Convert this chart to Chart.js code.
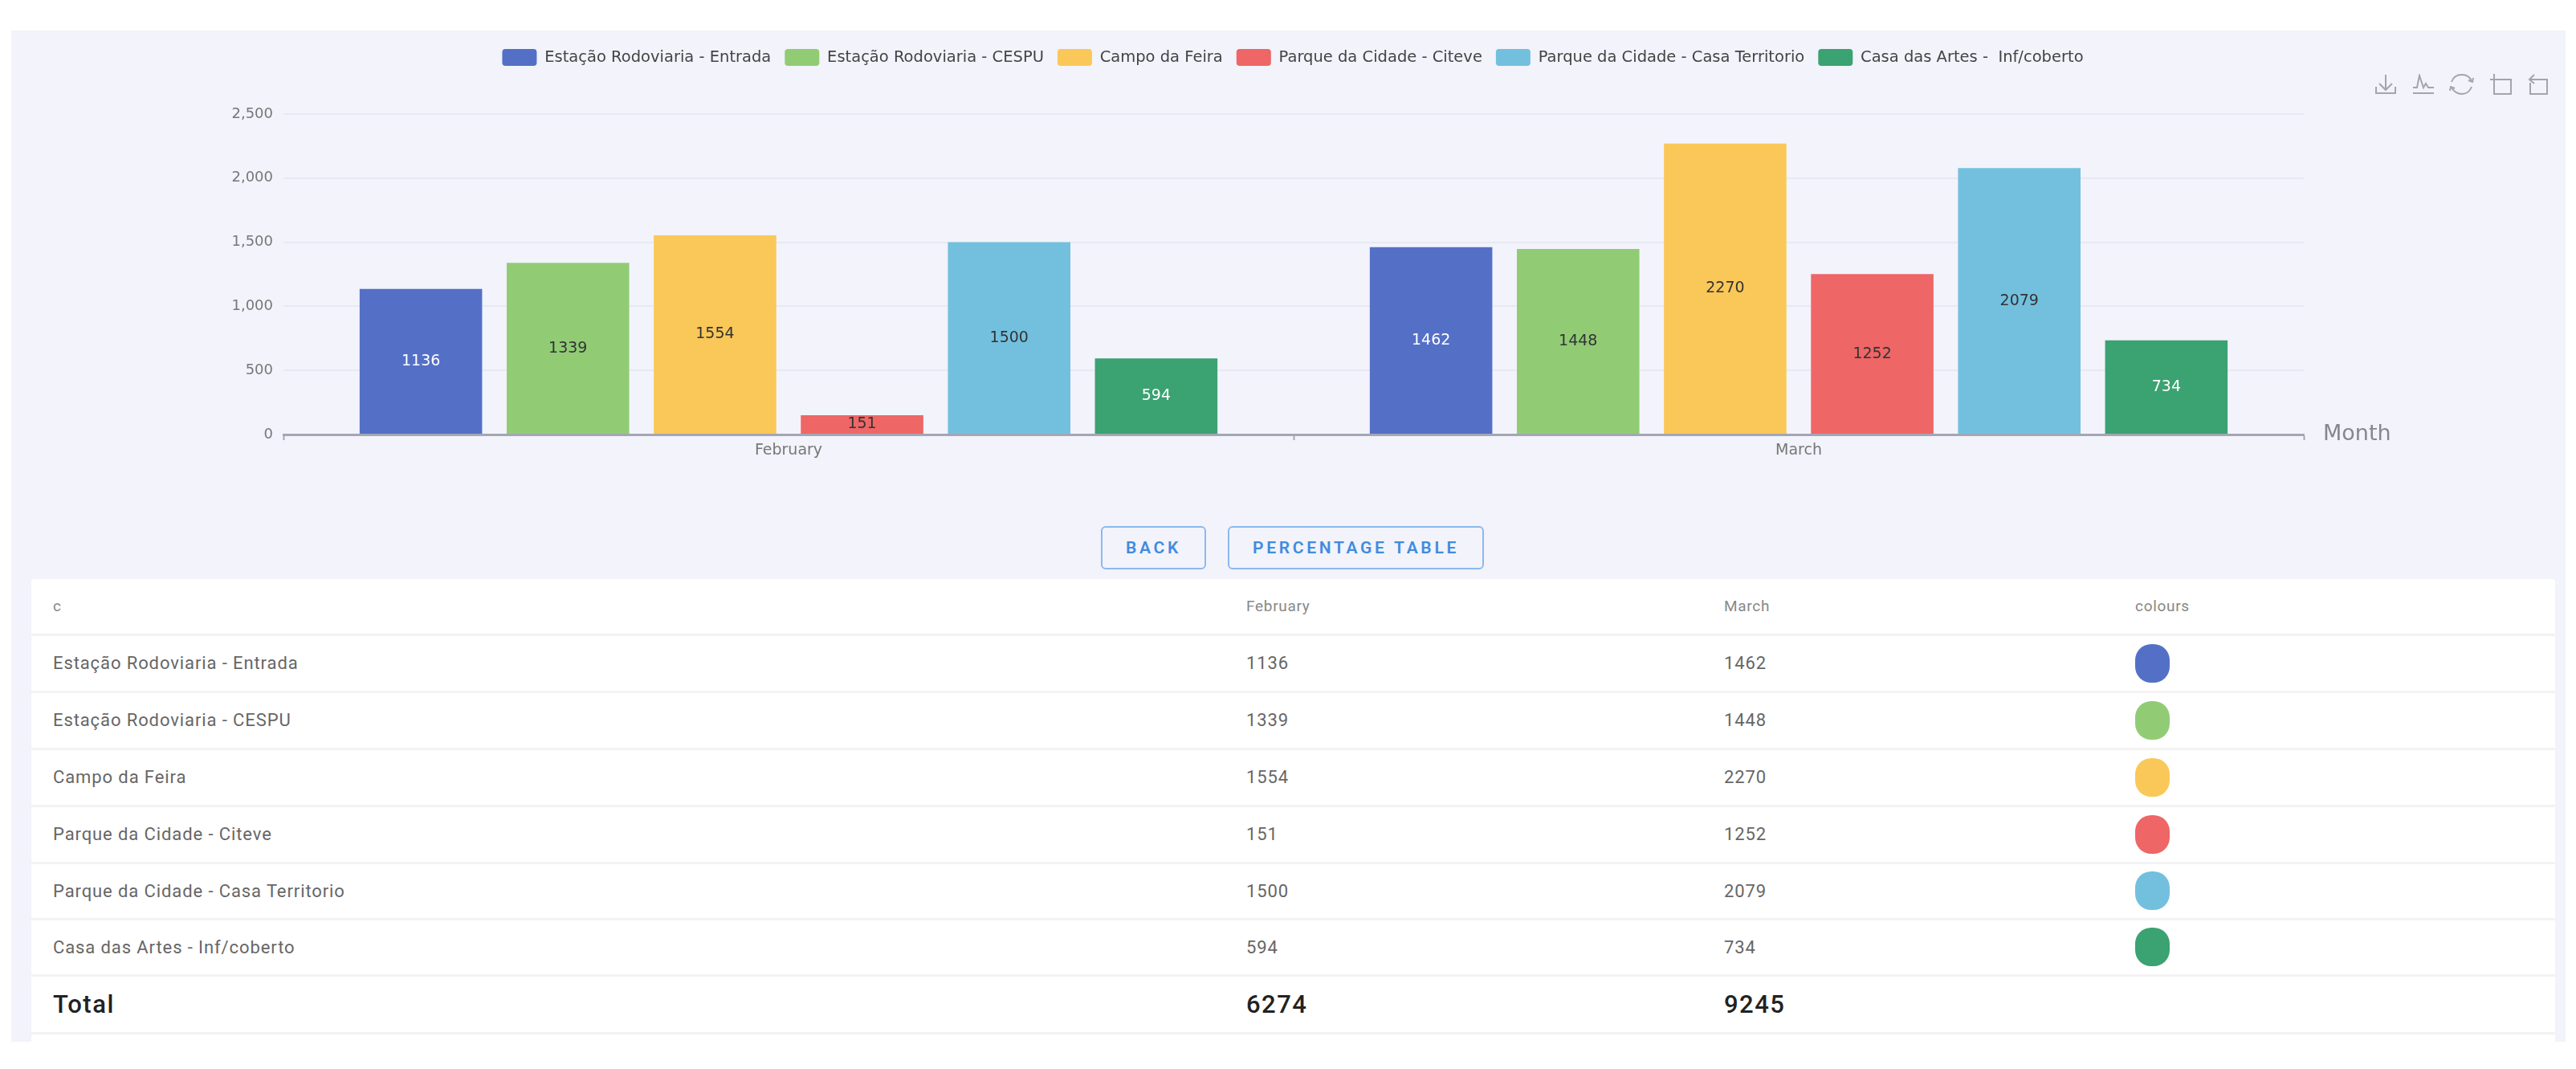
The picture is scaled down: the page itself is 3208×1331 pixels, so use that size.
<!DOCTYPE html>
<html>
<head>
<meta charset="utf-8">
<title>Chart</title>
<script src="https://cdn.jsdelivr.net/npm/chart.js@4"></script>
<style>
    html, body { margin: 0; padding: 0; background: #fff; overflow: hidden; }
    #page { position: absolute; left: 14px; top: 38px; width: 3181px; height: 1259px; background: #f2f3fb; }
    #chartBox { position: absolute; left: 14px; top: 38px; width: 3192px; height: 600px; }
    .tool { position: absolute; top: 92px; }
    .btn { position: absolute; top: 655px; height: 50px; border: 2px solid #8db9ee; border-radius: 6px; color: #3f8ce0;
           font: 600 21px Roboto, sans-serif; letter-spacing: 3.7px; text-align: center; line-height: 50px; }
    #tableBox { position: absolute; left: 39px; top: 721px; width: 3143px; height: 576px; background: #fff; border-radius: 4px 4px 0 0; }
    #tableBox table { border-collapse: collapse; table-layout: fixed; width: 3143px; font-family: Roboto, sans-serif; }
    #tableBox td, #tableBox th { padding: 0 0 0 27px; text-align: left; border-bottom: 3px solid #f3f3f4; font-weight: 400; font-size: 22px; letter-spacing: 0.9px; color: #666; }
    #tableBox th { font-size: 19px; letter-spacing: 0.7px; color: #888; }
    #tableBox .total td { font-size: 31px; letter-spacing: 1.5px; font-weight: 500; color: #222; }
    .dot { width: 43px; height: 48px; border-radius: 20px; }
</style>
</head>
<body>
<div id="page"></div>
<div id="chartBox"><canvas id="myChart" width="3192" height="600"></canvas></div>

<svg class="tool" style="left:2958px" width="26" height="26" viewBox="0 0 26 26" fill="none" stroke="#a3a5ad" stroke-width="2"><path d="M1 16v8h24v-8M13 1v18M5 12l8 8 8-8"/></svg>
<svg class="tool" style="left:3004px" width="28" height="26" viewBox="0 0 28 26" fill="none" stroke="#a3a5ad" stroke-width="2"><path d="M1 24h26M1 17h5l3-15 5 15 3-5 3 5h7"/></svg>
<svg class="tool" style="left:3050px" width="31" height="26" viewBox="0 0 31 26" fill="none" stroke="#a3a5ad" stroke-width="2"><path d="M3 10C5 4 10 1 16 1s10 3 12 8M28 16c-2 6-7 9-12 9S6 22 3 17"/><path d="M24 8l5 2 1-5M7 18l-5-2-1 5"/></svg>
<svg class="tool" style="left:3100px" width="29" height="26" viewBox="0 0 29 26" fill="none" stroke="#a3a5ad" stroke-width="2"><path d="M6 0v25h21V7H1"/></svg>
<svg class="tool" style="left:3147px" width="27" height="26" viewBox="0 0 27 26" fill="none" stroke="#a3a5ad" stroke-width="2"><path d="M4 11v14h21V7H4M9 1L3 7l6 5"/></svg>

<div class="btn" style="left:1371px;width:127px">BACK</div>
<div class="btn" style="left:1529px;width:315px">PERCENTAGE TABLE</div>

<div id="tableBox"><table id="dataTable"></table></div>

<script>
    var months = ['February', 'March'];
    var seriesNames = ['Estação Rodoviaria - Entrada', 'Estação Rodoviaria - CESPU', 'Campo da Feira',
        'Parque da Cidade - Citeve', 'Parque da Cidade - Casa Territorio', 'Casa das Artes -  Inf/coberto'];
    var entrada = [1136, 1462];
    var cespu = [1339, 1448];
    var feira = [1554, 2270];
    var citeve = [151, 1252];
    var territorio = [1500, 2079];
    var artes = [594, 734];
    var totals = [6274, 9245];
    var yTicks = [0, 500, 1000, 1500, 2000, 2500];

    var seriesValues = [entrada, cespu, feira, citeve, territorio, artes];
    var seriesColors = ['#5470c6', '#91cc75', '#fac858', '#ee6666', '#73c0de', '#3ba272'];
    var labelColors = ['#ffffff', '#333333', '#333333', '#333333', '#333333', '#ffffff'];
    var chartFont = '"DejaVu Sans", sans-serif';

    // fixes the legend box so the plot starts where it should and the legend centres on the whole canvas
    var legendBox = {
        id: 'legendBox',
        beforeLayout: function (chart) {
            var fit = chart.legend.fit;
            chart.legend.fit = function () {
                fit.call(this);
                this.height = 98;
            };
        },
        afterLayout: function (chart) {
            chart.legend.left = 0;
            chart.legend.right = chart.width;
        }
    };

    // value in the middle of each bar, and the axis name next to the x axis
    var barLabels = {
        id: 'barLabels',
        afterDatasetsDraw: function (chart) {
            var ctx = chart.ctx;
            ctx.save();
            ctx.textAlign = 'center';
            ctx.textBaseline = 'middle';
            ctx.font = '19px ' + chartFont;
            chart.data.datasets.forEach(function (ds, i) {
                ctx.fillStyle = labelColors[i];
                chart.getDatasetMeta(i).data.forEach(function (bar, j) {
                    ctx.fillText(ds.data[j], bar.x, (bar.y + bar.base) / 2);
                });
            });
            var x = chart.scales.x;
            ctx.textAlign = 'left';
            ctx.fillStyle = '#85868e';
            ctx.font = '27px ' + chartFont;
            ctx.fillText('Month', x.right + 24, x.top);
            ctx.restore();
        }
    };

    var ctx = document.getElementById('myChart').getContext('2d');
    var myChart = new Chart(ctx, {
        type: 'bar',
        data: {
            labels: months,
            datasets: seriesNames.map(function (name, i) {
                return { label: name, data: seriesValues[i], backgroundColor: seriesColors[i], borderWidth: 0 };
            })
        },
        options: {
            responsive: false,
            animation: false,
            categoryPercentage: 0.8735,
            barPercentage: 0.833,
            layout: { padding: { top: 6, right: 337 } },
            plugins: {
                legend: {
                    position: 'top',
                    labels: {
                        boxWidth: 43, boxHeight: 21, padding: 17,
                        useBorderRadius: true, borderRadius: 4,
                        color: '#444', font: { size: 19.5, family: chartFont }
                    }
                },
                tooltip: { enabled: false }
            },
            scales: {
                x: {
                    afterFit: function (scale) { scale.height = 97; },
                    border: { color: '#a4a6b3', width: 3 },
                    grid: { drawOnChartArea: false, tickLength: 7, tickColor: '#a4a6b3', tickWidth: 2 },
                    ticks: { color: '#777', padding: 2, font: { size: 19, family: chartFont } }
                },
                y: {
                    min: 0, max: 2500,
                    afterFit: function (scale) { scale.width = 339; },
                    afterBuildTicks: function (scale) { scale.ticks = yTicks.map(function (v) { return { value: v }; }); },
                    border: { display: false },
                    grid: { color: '#e7e9f3', lineWidth: 2, drawTicks: false },
                    ticks: { color: '#777', padding: 13, font: { size: 18, family: chartFont } }
                }
            }
        },
        plugins: [legendBox, barLabels]
    });

    // table under the chart, same arrays
    var rowHeights = [69, 71, 71, 71, 71, 70, 70, 72];
    var colWidths = [1486, 595, 512, 550];
    var html = '<colgroup>' + colWidths.map(function (w) { return '<col style="width:' + w + 'px">'; }).join('') + '</colgroup>';
    html += '<tr style="height:' + rowHeights[0] + 'px"><th>c</th><th>' + months[0] + '</th><th>' + months[1] + '</th><th>colours</th></tr>';
    seriesNames.forEach(function (name, i) {
        html += '<tr style="height:' + rowHeights[i + 1] + 'px"><td>' + name + '</td><td>' + seriesValues[i][0] + '</td><td>' + seriesValues[i][1] +
            '</td><td><div class="dot" style="background:' + seriesColors[i] + '"></div></td></tr>';
    });
    html += '<tr class="total" style="height:' + rowHeights[7] + 'px"><td>Total</td><td>' + totals[0] + '</td><td>' + totals[1] + '</td><td></td></tr>';
    document.getElementById('dataTable').innerHTML = html;
</script>
</body>
</html>
